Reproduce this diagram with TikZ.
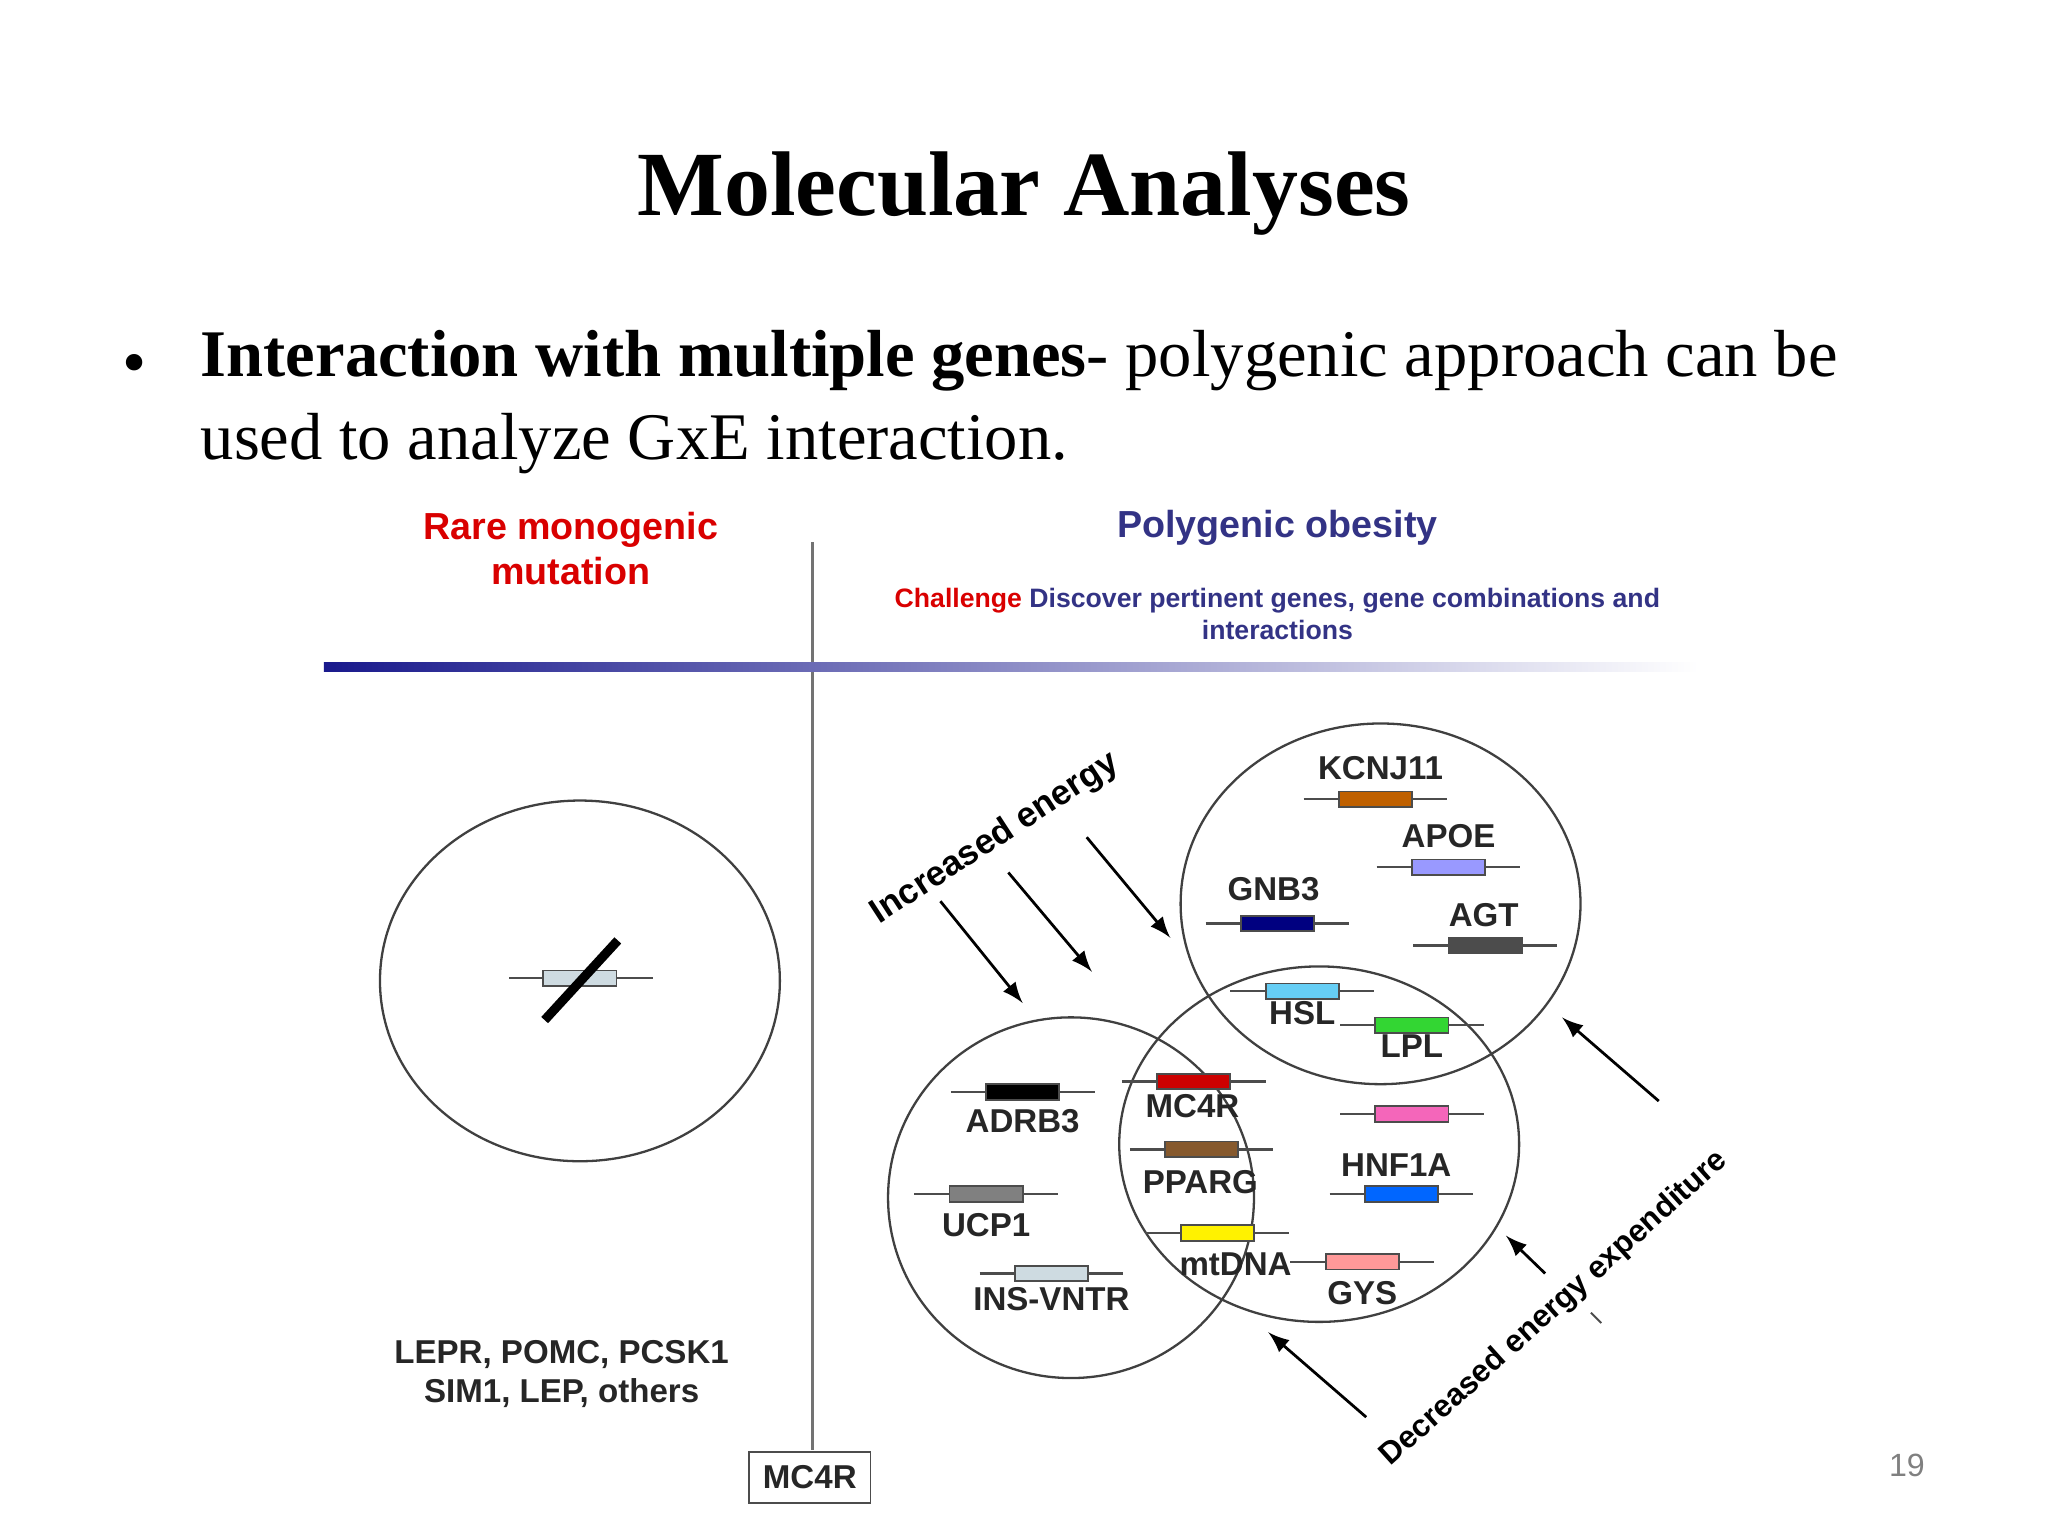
\documentclass[tikz,border=0pt]{standalone}
\usepackage{fontspec}
\setmainfont{Liberation Serif}
\setsansfont{Liberation Sans}
\begin{document}
\begin{tikzpicture}[x=0.01cm,y=-0.01cm,
  lab/.style={font=\sffamily\bfseries\fontsize{7.2}{8.6}\selectfont,text=black!85},
  glink/.style={draw=black!70,line width=0.5pt},
  gbox/.style={draw=black!70,line width=0.4pt,minimum width=0.56cm,minimum height=0.12cm,inner sep=0pt},
  arr/.style={-latex,line width=0.6pt},
  circ/.style={draw=black!75,line width=0.5pt}]
\useasboundingbox (0,0) rectangle (1568,1176);
\node (title) at (784,148) {\fontsize{20}{24}\selectfont\bfseries Molecular Analyses};
\node (bul) at (103,283) {\fontsize{15}{18}\selectfont\textbullet};
\node[anchor=west,align=left,inner sep=0pt,font=\fontsize{14.5}{18}\selectfont] (btxt) at (153,308) {\textbf{Interaction with multiple genes}- polygenic approach can be\\used to analyze GxE interaction.};
% axes
\draw[black!55,line width=0.8pt] (622,415) -- (622,1110);
\shade[left color=blue!50!black!90,right color=white] (248,507) rectangle (1300,514);
\node[align=center,font=\sffamily\bfseries\fontsize{8.2}{9.8}\selectfont,text=red!85!black] (rare) at (437,420) {Rare monogenic\\mutation};
\node[font=\sffamily\bfseries\fontsize{8.2}{10}\selectfont,text=blue!40!black!80] (poly) at (978,404) {Polygenic obesity};
\node[align=center,font=\sffamily\bfseries\fontsize{5.8}{7}\selectfont,text=blue!40!black!80] (chal) at (978,470) {\textcolor{red!85!black}{Challenge} Discover pertinent genes, gene combinations and\\interactions};
% left circle
\draw[circ] (444,751) ellipse (1.53cm and 1.38cm);
\draw[glink] (390,749) -- (500,749);
\node[gbox,fill=cyan!25!gray!35] (g0) at (444,749) {};
\draw[line width=2pt] (417,781) -- (473,720);
\node[lab,align=center] (lepr) at (430,1052) {LEPR, POMC, PCSK1\\SIM1, LEP, others};
\node[draw=black!70,lab,inner sep=3pt] (mc4rb) at (620,1131) {MC4R};
% circles
\draw[circ] (1057,692) ellipse (1.53cm and 1.38cm);
\draw[circ] (820,917) ellipse (1.40cm and 1.38cm);
\draw[circ] (1010,876) ellipse (1.53cm and 1.36cm);
% genes
\foreach \x/\y/\c/\lx/\ly/\t in {
1053/612/{orange!75!black}/1057/588/KCNJ11,
1109/664/{blue!40!white}/1109/640/APOE,
978/707/{blue!50!black}/975/681/GNB3,
1137/724/{black!70}/1136/701/AGT,
997/759/{cyan!60}/997/776/HSL,
1081/785/{green!80!black!80}/1081/801/LPL,
783/836/black/783/858/ADRB3,
914/828/{red!80!black}/913/847/MC4R,
920/880/{brown!70!black}/919/905/PPARG,
1081/853/{magenta!60}/1069/892/HNF1A,
755/914/{black!50}/755/938/UCP1,
932/944/yellow/946/968/mtDNA,
1043/966/{red!40}/1043/990/GYS,
805/975/{cyan!25!gray!35}/805/995/INS-VNTR}{
  \draw[glink] (\x-55,\y) -- (\x+55,\y);
  \node[gbox,fill=\c] at (\x,\y) {};
  \node[lab] at (\lx,\ly) {\t};
}
\draw[glink] (1018,914) -- (1128,914);
\node[gbox,fill=blue!60!cyan] (hnf2) at (1073,914) {};
% arrows
\draw[arr] (720,690) -- (783,768);
\draw[arr] (772,668) -- (836,744);
\draw[arr] (832,641) -- (896,718);
\draw[arr] (1270,843) -- (1196,779);
\draw[arr] (1183,975) -- (1153,946);
\draw[arr] (1046,1085) -- (971,1020);
\draw[black!70] (1218,1005) -- (1226,1013);
\node[rotate=33,font=\sffamily\bfseries\fontsize{7.6}{9}\selectfont] (inc) at (762,642) {Increased energy};
\node[rotate=42,font=\sffamily\bfseries\fontsize{6.8}{8}\selectfont] (dec) at (1190,1002) {Decreased energy expenditure};
\node[text=black!50,font=\sffamily\fontsize{7}{9}\selectfont] (pg) at (1460,1122) {19};
\end{tikzpicture}
\end{document}
